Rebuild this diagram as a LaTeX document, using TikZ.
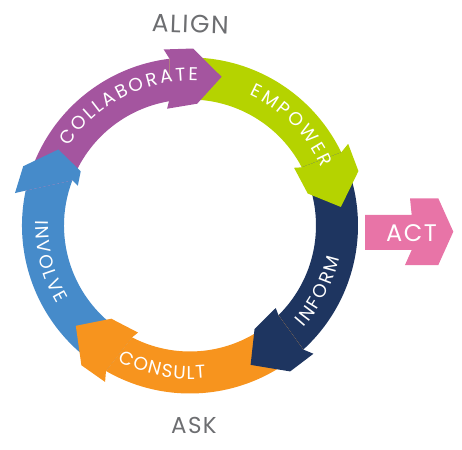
\documentclass[tikz,border=0pt]{standalone}
\usepackage{fontspec}
\newfontfamily\labelfont{Poppins}
\newfontfamily\titlefont[LetterSpace=6]{Poppins}
\usetikzlibrary{decorations.text}
\definecolor{collab}{HTML}{A4559F}
\definecolor{empower}{HTML}{B5D300}
\definecolor{inform}{HTML}{1E3560}
\definecolor{consult}{HTML}{F7941E}
\definecolor{involve}{HTML}{468BCA}
\definecolor{actpink}{HTML}{E874A7}
\definecolor{word}{HTML}{6D6E71}
\newcommand{\ringpart}[5]{\fill[#1] (#2:168pt) arc[start angle=#2, end angle=#4, radius=168pt]
  -- (#5:126pt) arc[start angle=#5, end angle=#3, radius=126pt] -- cycle;}
\newcommand{\ringhead}[4]{\fill[#1] (#2:168pt) -- ({#2+1.5}:178pt) -- ({#2-0.42*(#2-(#4))}:177pt)
  -- (#4:152pt) -- ({#3-0.6*(#3-(#4))}:122pt) -- ({#3+1.5}:119pt) -- (#3:126pt) -- cycle;}
\newcommand{\ringlabel}[4]{\path[decorate, decoration={text along path,
  text={|\labelfont\fontsize{18.5}{18.5}\selectfont|#4}, text align={fit to path},
  text color=white, raise=-6.5pt}] (#1:#3pt) arc[start angle=#1, end angle=#2, radius=#3pt];}
\begin{document}
\begin{tikzpicture}[x=1pt,y=1pt]
\useasboundingbox (-190,-223.5) rectangle (272,225.5);
\ringpart{involve}{240}{242.6}{168}{159}
\ringpart{collab}{168}{159}{97}{99.6}
\ringpart{empower}{97}{99.6}{25.8}{27.5}
\ringpart{inform}{25.8}{27.5}{-47.6}{-45.4}
\ringpart{consult}{-47.6}{-45.4}{-120}{-117.4}
\ringhead{involve}{168}{159}{150}
\ringhead{collab}{97}{99.6}{78}
\ringhead{empower}{25.8}{27.5}{7}
\ringhead{inform}{-47.6}{-45.4}{-66.5}
\ringhead{consult}{-120}{-117.4}{-138.7}
\ringlabel{146.7}{87}{151}{COLLABORATE}
\ringlabel{65.4}{23.7}{150}{EMPOWER}
\ringlabel{-41.8}{-12.1}{146}{INFORM}
\ringlabel{-118.2}{-84}{147}{CONSULT}
\ringlabel{178}{210.5}{148}{INVOLVE}
\fill[actpink] (175,10.5) -- (221.7,10.5) -- (220,27.2) -- (248.3,27.2) -- (263.3,-6.2)
  -- (248.3,-39.5) -- (215,-39.5) -- (221.7,-24.5) -- (175,-24.5) -- cycle;
\node[text=white, font=\titlefont\fontsize{24}{24}\selectfont] (act) at (221.5,-8) {ACT};
\node[text=word, font=\titlefont\fontsize{25}{25}\selectfont, anchor=base, rotate=-2] (align) at (0,192.5) {ALIGN};
\node[text=word, font=\titlefont\fontsize{23}{23}\selectfont, anchor=base] (ask) at (4,-207.5) {ASK};
\end{tikzpicture}
\end{document}
